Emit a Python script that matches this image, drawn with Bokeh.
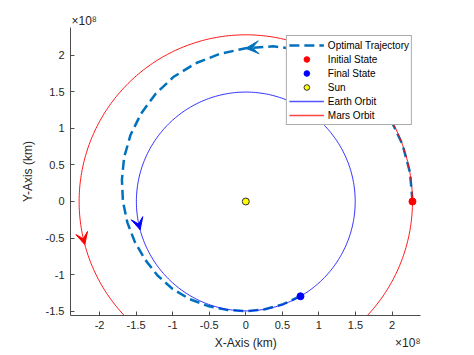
import numpy as np
from bokeh.plotting import figure
from bokeh.models import (Range1d, FixedTicker, CustomJSTickFormatter, Legend, LegendItem,
                          Arrow, VeeHead, Title, LinearAxis)
from bokeh.embed import file_html
from bokeh.resources import INLINE

# ---------------- data (km) ----------------
earth_orbit_radius = 1.496e8
mars_orbit_radius = 2.279e8

# optimal trajectory: polar angle (deg) and radius (1e8 km)
traj_theta_deg = [0, 10, 20, 30, 40, 50, 60, 70, 80, 90, 100, 110, 120, 130, 140, 150,
                  160, 170, 180, 190, 200, 210, 220, 230, 240, 250, 260, 270, 280, 290, 300]
traj_radius = [2.28, 2.28, 2.28, 2.278, 2.27, 2.255, 2.235, 2.205, 2.155, 2.095, 2.05,
               2.01, 1.97, 1.92, 1.87, 1.82, 1.77, 1.72, 1.68, 1.645, 1.615, 1.59, 1.575,
               1.56, 1.54, 1.52, 1.505, 1.50, 1.497, 1.495, 1.495]

initial_state_x = [2.279e8]
initial_state_y = [0.0]
final_state_x = [0.748e8]
final_state_y = [-1.296e8]
sun_x = [0.0]
sun_y = [0.0]

x_ticks = [-2e8, -1.5e8, -1e8, -0.5e8, 0, 0.5e8, 1e8, 1.5e8, 2e8]
y_ticks = [-1.5e8, -1e8, -0.5e8, 0, 0.5e8, 1e8, 1.5e8, 2e8]
exponent_text = "×10⁸"
x_axis_title = "X-Axis (km)"
y_axis_title = "Y-Axis (km)"

orbit_arrow_theta_deg = 195.0   # where the direction arrows sit on both orbits
traj_arrow_theta_deg = 90.0     # where the arrow sits on the trajectory

# ---------------- derived ----------------
th = np.radians(np.array(traj_theta_deg, dtype=float))
rr = np.array(traj_radius) * 1e8
traj_x = rr * np.cos(th)
traj_y = rr * np.sin(th)

circ = np.radians(np.arange(0, 361, 1.0))
earth_x = earth_orbit_radius * np.cos(circ)
earth_y = earth_orbit_radius * np.sin(circ)
mars_x = mars_orbit_radius * np.cos(circ)
mars_y = mars_orbit_radius * np.sin(circ)

FONT = "Liberation Sans"
TXT = "#262626"
AX = "#4d4d4d"
TRAJ_C = "#0072BD"
EARTH_C = "#1a1aff"
MARS_C = "#FF0000"

p = figure(width=474, height=355,
           x_range=Range1d(-2.397e8, 2.389e8), y_range=Range1d(-1.559e8, 2.379e8),
           output_backend="svg", toolbar_location=None,
           min_border_left=70, min_border_right=54, min_border_top=27, min_border_bottom=40)
p.outline_line_color = None
p.grid.visible = False
p.background_fill_color = "white"
p.border_fill_color = "white"

fmt = CustomJSTickFormatter(code="return String(Math.round(tick/1e8*100)/100);")
for ax, ticks in ((p.xaxis[0], x_ticks), (p.yaxis[0], y_ticks)):
    ax.ticker = FixedTicker(ticks=ticks)
    ax.formatter = fmt
    ax.major_tick_in = 4
    ax.major_tick_out = 0
    ax.minor_tick_line_color = None
    ax.axis_line_color = AX
    ax.major_tick_line_color = AX
    ax.major_label_text_font = FONT
    ax.major_label_text_font_size = "11px"
    ax.major_label_text_color = TXT
    ax.axis_label_text_font = FONT
    ax.axis_label_text_font_size = "12px"
    ax.axis_label_text_font_style = "normal"
    ax.axis_label_text_color = TXT

p.yaxis.axis_label = y_axis_title
p.xaxis.major_label_standoff = 5
p.yaxis.major_label_standoff = 6
p.yaxis.axis_label_standoff = 8

# second, bare axis row below: x-axis title centred, exponent at the right end
title_row = LinearAxis(ticker=FixedTicker(ticks=[0, 221500000]),
                       major_label_overrides={0: x_axis_title, 221500000: exponent_text})
title_row.axis_line_color = None
title_row.major_tick_line_color = None
title_row.minor_tick_line_color = None
title_row.major_tick_in = 0
title_row.major_tick_out = 0
title_row.major_label_standoff = 4
title_row.major_label_text_font = FONT
title_row.major_label_text_font_size = "12px"
title_row.major_label_text_color = TXT
p.add_layout(title_row, "below")

# exponent above the y axis, as a left-aligned title
p.add_layout(Title(text=exponent_text, align="left", text_font=FONT, text_font_size="12px",
                   text_font_style="normal", text_color=TXT, standoff=0, offset=1), "above")

# trajectory (drawn first, orbits on top)
traj = p.line(traj_x, traj_y, line_color=TRAJ_C, line_width=2.5, line_dash="10 5")

earth = p.line(earth_x, earth_y, line_color=EARTH_C, line_width=0.9)
mars = p.line(mars_x, mars_y, line_color=MARS_C, line_width=0.9)

init = p.scatter(initial_state_x, initial_state_y, size=7, fill_color=MARS_C, line_color=MARS_C)
final = p.scatter(final_state_x, final_state_y, size=7, fill_color="#0000FF", line_color="#0000FF")
sun = p.scatter(sun_x, sun_y, size=7, fill_color="#FFFF00", line_color="#333333", line_width=1)

# legend swatches for the orbits (no visible data of their own)
earth_key = p.line(x=[np.nan], y=[np.nan], line_color="#5555ff", line_width=1.3)
mars_key = p.line(x=[np.nan], y=[np.nan], line_color="#ff4444", line_width=1.3)

# direction arrows
def orbit_arrow(radius, theta_deg, color, size):
    t = np.radians(theta_deg)
    xe, ye = radius * np.cos(t), radius * np.sin(t)
    dx, dy = -np.sin(t), np.cos(t)
    eps = 0.05e8
    a = Arrow(end=VeeHead(size=size, fill_color=color, line_color=color, line_width=1),
              x_start=xe - eps * dx, y_start=ye - eps * dy, x_end=xe, y_end=ye,
              line_alpha=0)
    p.add_layout(a)

orbit_arrow(earth_orbit_radius, orbit_arrow_theta_deg, "#0000FF", 12)
orbit_arrow(mars_orbit_radius, orbit_arrow_theta_deg, MARS_C, 12)

k = traj_theta_deg.index(int(traj_arrow_theta_deg))
p.add_layout(Arrow(end=VeeHead(size=13, fill_color=TRAJ_C, line_color=TRAJ_C, line_width=1),
                   x_start=float(traj_x[k - 1]), y_start=float(traj_y[k - 1]),
                   x_end=float(traj_x[k]), y_end=float(traj_y[k]), line_alpha=0))

legend = Legend(items=[
    LegendItem(label="Optimal Trajectory", renderers=[traj]),
    LegendItem(label="Initial State", renderers=[init]),
    LegendItem(label="Final State", renderers=[final]),
    LegendItem(label="Sun", renderers=[sun]),
    LegendItem(label="Earth Orbit", renderers=[earth_key]),
    LegendItem(label="Mars Orbit", renderers=[mars_key]),
], location="top_right")
legend.margin = 8
legend.padding = 2
legend.spacing = 0
legend.label_height = 14
legend.glyph_height = 14
legend.glyph_width = 35
legend.label_standoff = 4
legend.label_text_font = FONT
legend.label_text_font_size = "10px"
legend.label_text_color = "#000000"
legend.border_line_color = "#595959"
legend.border_line_width = 1
legend.background_fill_color = "white"
legend.background_fill_alpha = 1.0
p.add_layout(legend)

open("out.html", "w").write(file_html(p, INLINE))
